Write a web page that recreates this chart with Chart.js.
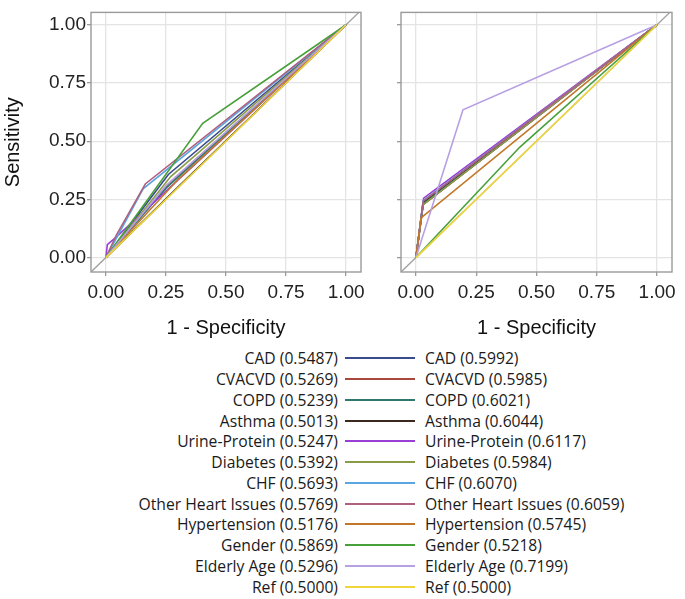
<!DOCTYPE html>
<html>
<head>
<meta charset="utf-8">
<script src="https://cdn.jsdelivr.net/npm/chart.js@4"></script>
<style>
  html,body{margin:0;padding:0;background:#fff;}
  body{width:685px;height:599px;position:relative;overflow:hidden;}
  #c1wrap{position:absolute;left:0;top:0;width:370px;height:340px;}
  #c2wrap{position:absolute;left:370px;top:0;width:315px;height:340px;}
  .lg{position:absolute;font-family:"Open Sans",sans-serif;font-size:15.7px;color:#1a1a1a;white-space:nowrap;line-height:20px;}
  .lgl{text-align:right;}
  .lgline{position:absolute;height:2px;}
</style>
</head>
<body>
<div id="c1wrap"><canvas id="c1"></canvas></div>
<div id="c2wrap"><canvas id="c2"></canvas></div>
<div id="legend"></div>
<script>
// ---------- data ----------
const seriesNames = ["CAD","CVACVD","COPD","Asthma","Urine-Protein","Diabetes","CHF","Other Heart Issues","Hypertension","Gender","Elderly Age","Ref"];
const leftAUC  = ["0.5487","0.5269","0.5239","0.5013","0.5247","0.5392","0.5693","0.5769","0.5176","0.5869","0.5296","0.5000"];
const rightAUC = ["0.5992","0.5985","0.6021","0.6044","0.6117","0.5984","0.6070","0.6059","0.5745","0.5218","0.7199","0.5000"];
// ROC points (1 - specificity, sensitivity) per series, left panel
const leftFPR = [
  [0,0.26,1],[0,0.27,1],[0,0.25,1],[0,0.30,1],[0,0.006,0.045,1],[0,0.27,1],
  [0,0.155,1],[0,0.044,0.164,1],[0,0.30,1],[0,0.403,1],[0,0.25,1],[0,1]
];
const leftTPR = [
  [0,0.357,1],[0,0.324,1],[0,0.298,1],[0,0.303,1],[0,0.055,0.09,1],[0,0.348,1],
  [0,0.295,1],[0,0.098,0.316,1],[0,0.335,1],[0,0.577,1],[0,0.309,1],[0,1]
];
// right panel
const rightFPR = [
  [0,0.03,1],[0,0.03,1],[0,0.03,1],[0,0.03,1],[0,0.032,1],[0,0.03,1],
  [0,0.03,1],[0,0.03,1],[0,0.021,1],[0,0.43,1],[0,0.195,1],[0,1]
];
const rightTPR = [
  [0,0.228,1],[0,0.227,1],[0,0.234,1],[0,0.239,1],[0,0.255,1],[0,0.227,1],
  [0,0.244,1],[0,0.242,1],[0,0.170,1],[0,0.4736,1],[0,0.635,1],[0,1]
];
const diagonal = [-0.2, 1.2];
const tickValues = [0, 0.25, 0.5, 0.75, 1];

// ---------- styles ----------
const colors = ["#3a4a8e","#a8473b","#2d7a6c","#3a281c","#9a3ed8","#8a9b48","#5aa6e2","#b0607f","#c27828","#48a03a","#b7a0e2","#f0d63a"];

function buildDatasets(fprs, tprs){
  const n = seriesNames.length;
  const ds = seriesNames.map((name,i)=>({
    label: name,
    data: fprs[i].map((v,k)=>({x:v, y:tprs[i][k]})),
    borderColor: colors[i],
    borderWidth: 1.6,
    pointRadius: 0,
    showLine: true,
    fill: false,
    order: n - i
  }));
  ds.push({
    label: "diag",
    data: diagonal.map(v=>({x:v,y:v})),
    borderColor: "#a0a0a0",
    borderWidth: 1.3,
    pointRadius: 0,
    showLine: true,
    order: 100
  });
  return ds;
}

const boxPlugin = {
  id: 'box',
  afterDatasetsDraw(chart){
    const {ctx, chartArea:a} = chart;
    ctx.save();
    ctx.strokeStyle = '#9a9a9a';
    ctx.lineWidth = 1.4;
    ctx.strokeRect(a.left, a.top, a.right - a.left, a.bottom - a.top);
    ctx.restore();
  }
};

function makeChart(id, fprs, tprs, showYLabels, yWidth, padRight){
  const tickFont = {family: "'Liberation Sans', Arial, sans-serif", size: 19};
  const titleFont = {family: "'Liberation Sans', Arial, sans-serif", size: 20};
  return new Chart(document.getElementById(id), {
    type: 'scatter',
    data: { datasets: buildDatasets(fprs, tprs) },
    plugins: [boxPlugin],
    options: {
      responsive: true,
      maintainAspectRatio: false,
      animation: false,
      layout: { padding: {top: 3, right: padRight, left: 0, bottom: 0} },
      plugins: { legend: {display:false}, tooltip: {enabled:false} },
      scales: {
        x: {
          type: 'linear', min: -0.062, max: 1.062,
          afterBuildTicks: s => { s.ticks = tickValues.map(v=>({value:v})); },
          afterFit: s => { s.height = 68; },
          ticks: { callback: v => v.toFixed(2), font: tickFont, color: '#222', padding: 5, maxRotation: 0, autoSkip: false },
          grid: { color: '#e4e4e4', lineWidth: 1.3, tickColor: '#9a9a9a', tickLength: 4 },
          border: { display: false },
          title: { display: true, text: '1 - Specificity', font: titleFont, color: '#111', padding: {top: 0, bottom: 0} }
        },
        y: {
          type: 'linear', min: -0.062, max: 1.053,
          afterBuildTicks: s => { s.ticks = tickValues.map(v=>({value:v})); },
          afterFit: s => { s.width = yWidth; },
          ticks: { callback: v => showYLabels ? v.toFixed(2) : '', font: tickFont, color: '#222', padding: 1, autoSkip: false },
          grid: { color: '#e4e4e4', lineWidth: 1.3, tickColor: '#9a9a9a', tickLength: 4 },
          border: { display: false },
          title: { display: showYLabels, text: 'Sensitivity', font: titleFont, color: '#111', padding: {top: 1, bottom: 0} }
        }
      }
    }
  });
}

makeChart('c1', leftFPR, leftTPR, true, 91, 7);
makeChart('c2', rightFPR, rightTPR, false, 31, 13);

// ---------- legend ----------
const legend = document.getElementById('legend');
const rowY0 = 358.3, rowStep = 20.76;
seriesNames.forEach((name,i)=>{
  const cy = rowY0 + rowStep*i;
  const l = document.createElement('div');
  l.className = 'lg lgl';
  l.style.right = (685 - 338) + 'px';
  l.style.top = (cy - 10) + 'px';
  l.textContent = name + ' (' + leftAUC[i] + ')';
  legend.appendChild(l);
  const ln = document.createElement('div');
  ln.className = 'lgline';
  ln.style.left = '345px'; ln.style.width = '70px';
  ln.style.top = (cy - 1) + 'px';
  ln.style.background = colors[i];
  legend.appendChild(ln);
  const r = document.createElement('div');
  r.className = 'lg';
  r.style.left = '425px';
  r.style.top = (cy - 10) + 'px';
  r.textContent = name + ' (' + rightAUC[i] + ')';
  legend.appendChild(r);
});
</script>
</body>
</html>
